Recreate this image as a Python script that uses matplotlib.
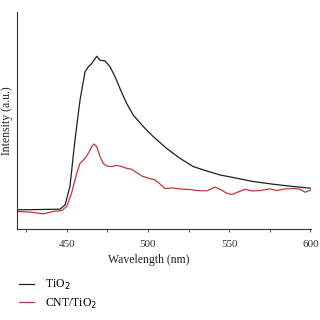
import matplotlib
matplotlib.use("Agg")
import matplotlib.pyplot as plt
from matplotlib.lines import Line2D
import numpy as np

plt.rcParams['font.family'] = ['Liberation Serif', 'DejaVu Serif']

wl_tio2 = [419.4, 445.9, 449.0, 452.0, 455.1, 458.2, 461.3, 463.3, 465.4, 468.5, 470.5,
           473.6, 476.7, 479.8, 482.8, 486.9, 491.0, 497.2, 503.3, 511.5, 519.7, 527.9,
           536.2, 544.4, 552.6, 564.9, 577.2, 589.5, 600.4]
int_tio2 = [19.3, 20.0, 24.3, 42.7, 89.3, 129.3, 157.7, 162.7, 166.0, 173.3, 169.3,
            168.7, 162.7, 152.7, 141.0, 126.0, 114.3, 102.7, 92.7, 81.0, 71.0, 62.7,
            58.3, 54.3, 51.7, 47.7, 45.0, 42.7, 41.0]

wl_cnt = [419.4, 428.0, 435.6, 441.8, 447.0, 450.0, 453.0, 456.2, 458.2, 461.3, 463.3,
          465.4, 466.8, 468.5, 470.5, 472.5, 474.6, 477.7, 480.8, 483.9, 486.9, 490.0,
          493.1, 496.2, 500.3, 504.4, 507.4, 510.5, 514.6, 517.7, 521.8, 525.9, 530.0,
          536.2, 541.3, 544.4, 548.5, 551.6, 554.6, 559.8, 563.9, 569.0, 575.2, 579.3,
          584.4, 589.5, 593.6, 596.7, 600.4]
int_cnt = [17.7, 17.0, 15.3, 17.7, 18.7, 22.7, 36.0, 56.0, 66.0, 71.0, 76.0,
           82.7, 85.3, 82.7, 72.7, 66.0, 63.3, 62.7, 64.0, 62.7, 61.0, 60.0,
           56.7, 53.3, 51.0, 49.3, 45.3, 40.7, 41.3, 40.7, 40.0, 39.7, 38.7,
           38.3, 42.0, 40.0, 36.0, 34.7, 36.7, 40.0, 38.3, 38.7, 40.3, 38.7,
           40.3, 40.7, 40.0, 37.0, 39.3]

labels = ['TiO$_2$', 'CNT/TiO$_2$']
colors = ['#1e1e1e', '#c0393b']

fig = plt.figure(figsize=(3.2, 3.2), dpi=100)
ax = fig.add_axes([0.053, 0.284, 0.919, 0.6785])
ax.plot(wl_tio2, int_tio2, color=colors[0], lw=0.9)
ax.plot(wl_cnt, int_cnt, color=colors[1], lw=0.9)
ax.set_xlim(419.4, 600.4)
ax.set_ylim(0, 217.7)
ax.spines['top'].set_visible(False)
ax.spines['right'].set_visible(False)
for s in ['left', 'bottom']:
    ax.spines[s].set_color('#333333')
    ax.spines[s].set_linewidth(0.8)
ax.set_xticks([450, 500, 550, 600])
ax.set_xticks([425, 475, 525, 575], minor=True)
ax.tick_params(axis='x', which='both', direction='out', length=2.5, width=0.6,
               labelsize=8, pad=5, colors='#333333')
ax.set_yticks([])
ax.set_xlabel('Wavelength (nm)', fontsize=8.5, color='#222222')
ax.xaxis.set_label_coords((149 - 17) / 294, -0.115)
ax.set_ylabel('Intensity (a.u.)', fontsize=8.5, color='#222222')
ax.yaxis.set_label_coords(-0.012, 0.5)

handles = [Line2D([], [], color=c, lw=0.9) for c in colors]
fig.legend(handles, labels, loc='upper left', bbox_to_anchor=(0.045, 0.145),
           frameon=False, fontsize=8.5, handlelength=1.3, handletextpad=0.9,
           labelspacing=0.35, borderaxespad=0)

fig.savefig('out.png', dpi=100)
